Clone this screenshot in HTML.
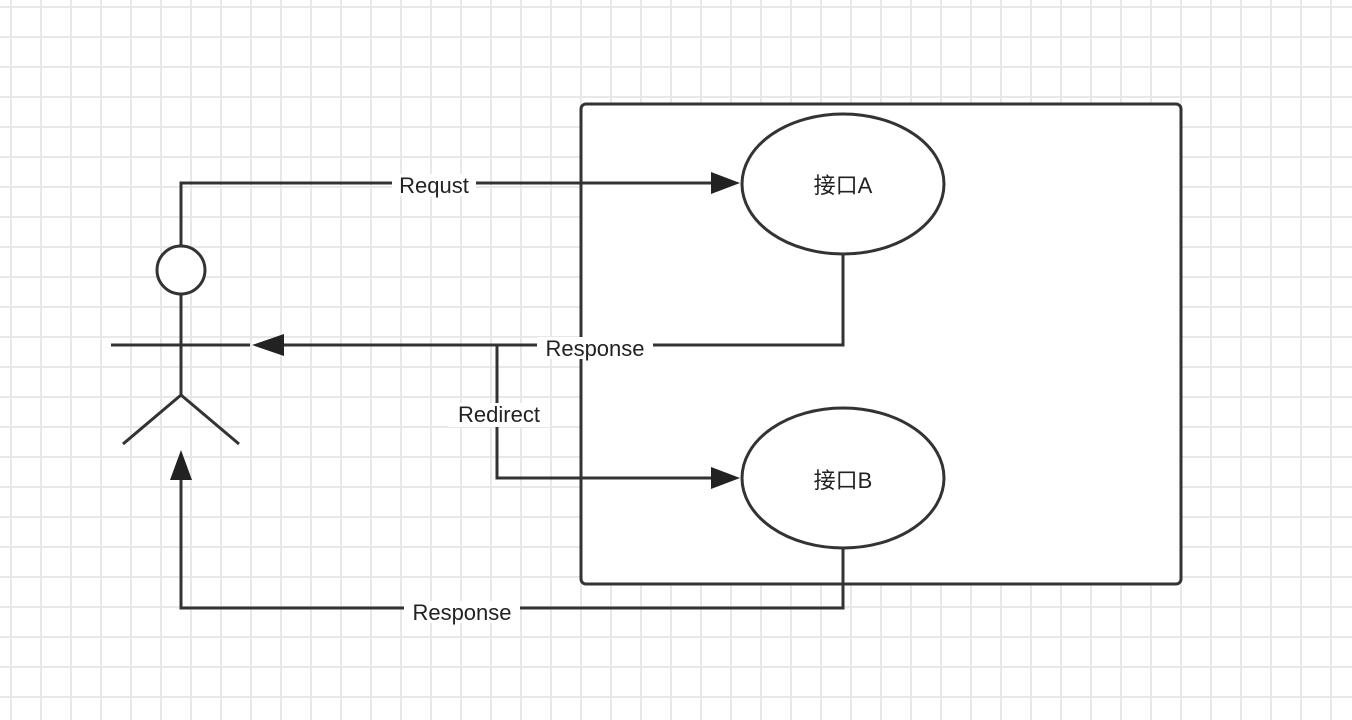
<!DOCTYPE html>
<html><head><meta charset="utf-8"><style>
html,body{margin:0;padding:0;background:#fff;width:1352px;height:720px;overflow:hidden}
svg{display:block}
text{font-family:"Liberation Sans","Noto Sans CJK SC",sans-serif;font-size:22px;fill:#222}
</style></head><body>
<svg width="1352" height="720" viewBox="0 0 1352 720">
<defs>
<pattern id="g" x="10" y="6" width="30" height="30" patternUnits="userSpaceOnUse">
<path d="M1 0V30M0 1H30" stroke="#e8e8e8" stroke-width="2" fill="none"/>
</pattern>
</defs>
<rect width="1352" height="720" fill="url(#g)"/>
<g stroke="#333" stroke-width="3" fill="none">
<rect x="581" y="104" width="600" height="480" rx="5" fill="#fff"/>
<ellipse cx="843" cy="184" rx="101" ry="70" fill="#fff"/>
<ellipse cx="843" cy="478" rx="101" ry="70" fill="#fff"/>
<circle cx="181" cy="270" r="24" fill="#fff"/>
<path d="M181 294V395M111 345H250M181 395L123 444M181 395L239 444"/>
<path d="M181 246V183H712"/>
<path d="M843 254V345H282"/>
<path d="M497 345V478H712"/>
<path d="M843 549V608H181V480"/>
</g>
<g fill="#222">
<path d="M740 183L711 172V194Z"/>
<path d="M740 478L711 467V489Z"/>
<path d="M252 345L284 334V356Z"/>
<path d="M181 450L170 480H192Z"/>
</g>
<g>
<rect x="392" y="174" width="84" height="22" fill="#fff"/>
<text x="434" y="193" text-anchor="middle">Requst</text>
<rect x="537" y="337" width="116" height="22" fill="#fff"/>
<text x="595" y="356" text-anchor="middle">Response</text>
<rect x="448" y="403" width="102" height="24" fill="#fff"/>
<text x="499" y="422" text-anchor="middle">Redirect</text>
<rect x="404" y="601" width="116" height="22" fill="#fff"/>
<text x="462" y="620" text-anchor="middle">Response</text>
<text x="843" y="193" text-anchor="middle">接口A</text>
<text x="843" y="488" text-anchor="middle">接口B</text>
</g>
</svg>
</body></html>
